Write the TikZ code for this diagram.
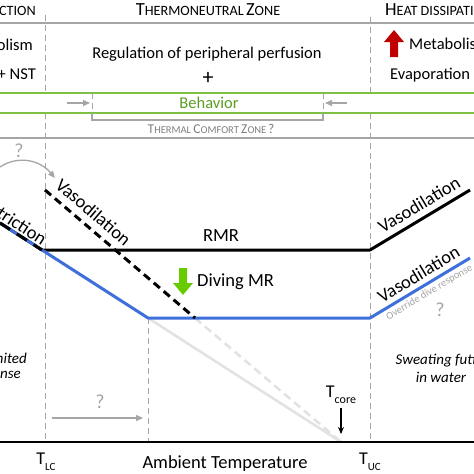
\documentclass[tikz,border=0pt]{standalone}
\usepackage{fontspec}
\setmainfont{Carlito}
\usetikzlibrary{arrows.meta}
\definecolor{gline}{HTML}{A6A6A6}
\definecolor{lightg}{HTML}{E2E2E2}
\definecolor{bandgreen}{HTML}{7CC142}
\definecolor{behgreen}{HTML}{5A9E22}
\definecolor{mrblue}{HTML}{3F6FDB}
\definecolor{arrred}{HTML}{C00000}
\definecolor{arrgreen}{HTML}{66CC00}
\newcommand{\bigC}[1]{{\fontsize{18.5}{19}\selectfont #1}}
\newcommand{\smC}[1]{{\fontsize{14.2}{15}\selectfont #1}}
\newcommand{\bigT}[1]{{\fontsize{13.5}{14}\selectfont #1}}
\newcommand{\smT}[1]{{\fontsize{10.5}{11}\selectfont #1}}
\begin{document}
\begin{tikzpicture}[x=1pt,y=-1pt,
  vdash/.style={draw=gline, line width=0.9pt, dash pattern=on 6pt off 4pt},
  hline/.style={draw=gline, line width=1.4pt},
  band/.style={draw=bandgreen, line width=2pt},
  rmr/.style={draw=black, line width=3pt},
  mr/.style={draw=mrblue, line width=3pt},
  lbl/.style={font=\fontsize{16.5}{18}\selectfont, inner sep=0pt},
  biglbl/.style={font=\fontsize{18.5}{20}\selectfont, inner sep=0pt},
  itl/.style={font=\fontsize{15}{18}\selectfont\itshape, inner sep=0pt, align=center},
  garrow/.style={draw=gline, line width=1.3pt, -{Triangle[length=7pt,width=6pt]}},
  qmark/.style={text=gline, font=\fontsize{20}{20}\selectfont, inner sep=0pt},
  hdr/.style={inner sep=0pt}
]
\useasboundingbox (0,0) rectangle (474,474);
\clip (0,0) rectangle (474,474);
\fill[white] (0,0) rectangle (474,474);

% ---------- coordinates ----------
\coordinate (h1) at (0,23);   \coordinate (h2) at (474,23);
\coordinate (g1a) at (0,93);  \coordinate (g1b) at (474,93);
\coordinate (g2a) at (0,113); \coordinate (g2b) at (474,113);
\coordinate (h3) at (0,138);  \coordinate (h4) at (474,138);
\coordinate (ax1) at (0,442); \coordinate (ax2) at (474,442);
\coordinate (lcT) at (45,15);  \coordinate (lcM) at (45,93);
\coordinate (lcN) at (45,113); \coordinate (lcB) at (45,442);
\coordinate (ucT) at (370,17);  \coordinate (ucM) at (370,93);
\coordinate (ucN) at (370,113); \coordinate (ucB) at (370,442);
\coordinate (tzL1) at (92,93);  \coordinate (tzL2) at (92,113); \coordinate (tzL3) at (92,120);
\coordinate (tzR1) at (323,93); \coordinate (tzR2) at (323,113); \coordinate (tzR3) at (323,120);
\coordinate (ba1) at (67,103);  \coordinate (ba2) at (90,103);
\coordinate (bb1) at (347,103); \coordinate (bb2) at (325,103);
\coordinate (rmr0) at (0,223); \coordinate (rmrL) at (42,250);
\coordinate (rmrR) at (370,250); \coordinate (rmrE) at (470,190);
\coordinate (bc) at (148,318); \coordinate (bR) at (370,318); \coordinate (bE) at (470,258);
\coordinate (vd1) at (45,190); \coordinate (vd2) at (195,318);
\coordinate (tc) at (341,442);
\coordinate (bcB) at (148,442);
\coordinate (ca1) at (0,167); \coordinate (ca2) at (55,178);
\coordinate (la1) at (52,418); \coordinate (la2) at (143,418);
\coordinate (tca1) at (341,408); \coordinate (tca2) at (341,434);

% ---------- grid lines ----------
\draw[vdash] (lcT) -- (lcM);
\draw[vdash] (lcN) -- (lcB);
\draw[vdash] (ucT) -- (ucM);
\draw[vdash] (ucN) -- (ucB);
\draw[vdash] (bc) -- (bcB);
\draw[hline] (h1) -- (h2);
\draw[hline] (h3) -- (h4);

% ---------- headers ----------
\node[hdr, anchor=east] (hprod) at (36,10) {\bigC{H}\smC{EAT} \bigC{P}\smC{RODUCTION}};
\node[hdr] (htnz) at (208,10) {\bigC{T}\smC{HERMONEUTRAL} \bigC{Z}\smC{ONE}};
\node[hdr, anchor=west] (hdiss) at (385,10) {\bigC{H}\smC{EAT DISSIPATION}};

% ---------- top section ----------
\node[lbl, anchor=east] (metL) at (33,45) {Metabolism};
\node[lbl, anchor=east] (nst) at (36,75) {Shivering + NST};
\node[lbl] (reg) at (207,54) {Regulation of peripheral perfusion};
\node[font=\fontsize{22}{22}\selectfont, inner sep=0pt] (plus) at (208,78) {+};
\fill[arrred] (394,30) -- (404,42) -- (398,42) -- (398,57) -- (390,57) -- (390,42) -- (384,42) -- cycle;
\node[lbl, anchor=west] (metR) at (409,44) {Metabolism};
\node[lbl, anchor=west] (evap) at (390,75) {Evaporation};

% ---------- behavior band ----------
\draw[band] (g1a) -- (g1b);
\draw[band] (g2a) -- (g2b);
\node[lbl, text=behgreen] (beh) at (209,103) {Behavior};
\draw[garrow] (ba1) -- (ba2);
\draw[garrow] (bb1) -- (bb2);
\draw[vdash] (tzL1) -- (tzL2);
\draw[vdash] (tzR1) -- (tzR2);
\draw[draw=gline, line width=1.1pt] (tzL2) -- (tzL3) -- (tzR3) -- (tzR2);
\node[hdr, text=gray] (tcz) at (211,129) {\bigT{T}\smT{HERMAL} \bigT{C}\smT{OMFORT} \bigT{Z}\smT{ONE}\,\bigT{?}};

% ---------- lower section ----------
\node[qmark] (q1) at (19,151) {?};
\draw[garrow] (ca1) .. controls (18,155) and (40,160) .. (ca2);

% faint continuation lines
\draw[draw=lightg, line width=2.5pt] (bc) -- (tc);
\draw[draw=lightg, line width=2.5pt, dash pattern=on 8pt off 5pt] (vd2) -- (tc);

% RMR
\draw[rmr] (rmr0) -- (rmrL);
\draw[rmr, line join=round] (rmrL) -- (rmrR) -- (rmrE);
% MR (blue)
\draw[mr, line join=round] (rmr0) -- (rmrL) -- (bc) -- (bR) -- (bE);
\draw[draw=black, line width=3pt, dash pattern=on 12pt off 8pt] (rmr0) -- (rmrL);
% vasodilation dashed
\draw[draw=black, line width=3pt, dash pattern=on 8pt off 5pt] (vd1) -- (vd2);

% rotated labels
\path (rmr0) -- (rmrL) node[pos=0.95, sloped, anchor=south east, inner sep=0pt, yshift=3pt, font=\fontsize{18.5}{20}\selectfont] (vcon) {Vasoconstriction};
\path (vd1) -- (vd2) node[pos=0.26, sloped, anchor=south, inner sep=0pt, yshift=8pt, font=\fontsize{18.5}{20}\selectfont] (vdil1) {Vasodilation};
\path (rmrR) -- (rmrE) node[pos=0.56, sloped, anchor=south, inner sep=0pt, yshift=7pt, font=\fontsize{18.5}{20}\selectfont] (vdil2) {Vasodilation};
\path (bR) -- (bE) node[pos=0.55, sloped, anchor=south, inner sep=0pt, yshift=6pt, font=\fontsize{18.5}{20}\selectfont] (vdil3) {Vasodilation};
\path (bR) -- (bE) node[pos=0.55, sloped, anchor=north, inner sep=0pt, yshift=-4pt, text=gline, font=\fontsize{10.5}{12}\selectfont] (ovr) {Override dive response};

\node[biglbl] (rmrlbl) at (221,236) {RMR};
\fill[arrgreen] (183,295) -- (193,283) -- (187,283) -- (187,268) -- (179,268) -- (179,283) -- (173,283) -- cycle;
\node[biglbl, anchor=west] (dmr) at (197,282) {Diving MR};

\node[qmark] (q2) at (440,310) {?};
\node[itl] (sweat) at (441,368) {Sweating futile\\in water};
\node[itl, anchor=east] (lim1) at (27,358) {limited};
\node[itl, anchor=east] (lim2) at (21,376) {response};

\node[qmark] (q3) at (100,402) {?};
\draw[garrow] (la1) -- (la2);

% T core
\node[inner sep=0pt, font=\fontsize{18}{20}\selectfont] (tcore) at (341,395) {T\raisebox{-0.35em}{\fontsize{12}{12}\selectfont core}};
\draw[draw=black, line width=1.2pt, -{Stealth[length=7pt,width=6pt]}] (tca1) -- (tca2);

% axis
\draw[draw=black, line width=2.5pt] (ax1) -- (ax2);
\node[inner sep=0pt, font=\fontsize{18}{20}\selectfont] (tlc) at (46,462) {T\raisebox{-0.35em}{\fontsize{11}{11}\selectfont LC}};
\node[inner sep=0pt, font=\fontsize{18}{20}\selectfont] (tuc) at (370,462) {T\raisebox{-0.35em}{\fontsize{11}{11}\selectfont UC}};
\node[biglbl] (amb) at (225,464) {Ambient Temperature};
\end{tikzpicture}
\end{document}
